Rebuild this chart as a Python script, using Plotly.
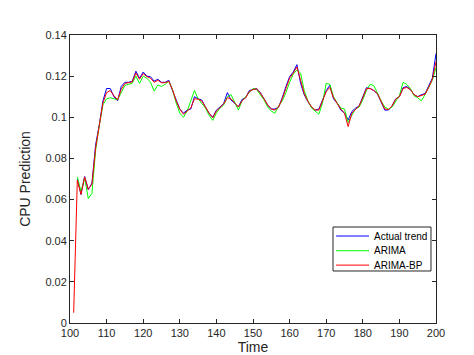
import plotly.graph_objects as go

x_red = list(range(101, 201))
x_other = list(range(102, 201))

actual = [
    0.0700, 0.0625, 0.0712, 0.0648, 0.0680, 0.0866, 0.0963, 0.1080, 0.1140,  # 102-110
    0.1140, 0.1100, 0.1080, 0.1150, 0.1170, 0.1170, 0.1175, 0.1224, 0.1190, 0.1220,  # 111-120
    0.1200, 0.1197, 0.1176, 0.1185, 0.1170, 0.1170, 0.1180, 0.1130, 0.1080, 0.1040,  # 121-130
    0.1020, 0.1035, 0.1040, 0.1100, 0.1090, 0.1084, 0.1050, 0.1020, 0.1000, 0.1035,  # 131-140
    0.1050, 0.1068, 0.1120, 0.1084, 0.1068, 0.1050, 0.1087, 0.1095, 0.1130, 0.1135,  # 141-150
    0.1140, 0.1120, 0.1090, 0.1060, 0.1040, 0.1040, 0.1050, 0.1095, 0.1150, 0.1197,  # 151-160
    0.1220, 0.1256, 0.1165, 0.1110, 0.1076, 0.1050, 0.1035, 0.1040, 0.1084, 0.1130,  # 161-170
    0.1156, 0.1090, 0.1068, 0.1035, 0.1020, 0.0987, 0.1028, 0.1044, 0.1055, 0.1100,  # 171-180
    0.1144, 0.1140, 0.1130, 0.1114, 0.1076, 0.1035, 0.1035, 0.1056, 0.1090, 0.1100,  # 181-190
    0.1144, 0.1150, 0.1135, 0.1110, 0.1100, 0.1110, 0.1115, 0.1150, 0.1190, 0.1310,  # 191-200
]

arima = [
    0.0710, 0.0640, 0.0705, 0.0605, 0.0630, 0.0840, 0.0960, 0.1060, 0.1090,
    0.1095, 0.1090, 0.1085, 0.1120, 0.1155, 0.1160, 0.1165, 0.1200, 0.1165, 0.1200,
    0.1190, 0.1170, 0.1127, 0.1157, 0.1150, 0.1160, 0.1175, 0.1135, 0.1070, 0.1020,
    0.1000, 0.1030, 0.1080, 0.1130, 0.1090, 0.1070, 0.1045, 0.1010, 0.0985, 0.1020,
    0.1045, 0.1060, 0.1100, 0.1110, 0.1070, 0.1035, 0.1080, 0.1100, 0.1120, 0.1140,
    0.1135, 0.1110, 0.1085, 0.1050, 0.1030, 0.1020, 0.1055, 0.1080, 0.1120, 0.1170,
    0.1210, 0.1230, 0.1215, 0.1130, 0.1080, 0.1045, 0.1030, 0.1015, 0.1070, 0.1165,
    0.1160, 0.1100, 0.1070, 0.1045, 0.1040, 0.0975, 0.1010, 0.1040, 0.1050, 0.1085,
    0.1130, 0.1160, 0.1155, 0.1115, 0.1080, 0.1050, 0.1040, 0.1050, 0.1080, 0.1105,
    0.1170, 0.1160, 0.1140, 0.1105, 0.1095, 0.1080, 0.1110, 0.1145, 0.1180, 0.1240,
]

arima_bp = [
    0.0050, 0.0695, 0.0625, 0.0710, 0.0650, 0.0675, 0.0850, 0.0960, 0.1070, 0.1120,  # 101-110
    0.1130, 0.1105, 0.1085, 0.1135, 0.1165, 0.1168, 0.1172, 0.1215, 0.1185, 0.1212,
    0.1198, 0.1190, 0.1170, 0.1180, 0.1168, 0.1168, 0.1175, 0.1135, 0.1080, 0.1040,
    0.1015, 0.1030, 0.1045, 0.1090, 0.1088, 0.1080, 0.1050, 0.1020, 0.0998, 0.1030,
    0.1048, 0.1065, 0.1095, 0.1090, 0.1070, 0.1050, 0.1080, 0.1095, 0.1125, 0.1135,
    0.1138, 0.1118, 0.1090, 0.1060, 0.1040, 0.1035, 0.1050, 0.1090, 0.1140, 0.1190,
    0.1215, 0.1245, 0.1180, 0.1115, 0.1078, 0.1050, 0.1035, 0.1035, 0.1080, 0.1125,
    0.1145, 0.1095, 0.1068, 0.1040, 0.1020, 0.0955, 0.1020, 0.1040, 0.1055, 0.1095,
    0.1140, 0.1140, 0.1130, 0.1115, 0.1078, 0.1040, 0.1038, 0.1055, 0.1088, 0.1100,
    0.1140, 0.1145, 0.1135, 0.1110, 0.1100, 0.1105, 0.1112, 0.1145, 0.1185, 0.1270,
]

x_ticks = [100, 110, 120, 130, 140, 150, 160, 170, 180, 190, 200]
y_ticks = [0, 0.02, 0.04, 0.06, 0.08, 0.1, 0.12, 0.14]
y_tick_text = ["0", "0.02", "0.04", "0.06", "0.08", "0.1", "0.12", "0.14"]

series_names = ["Actual trend", "ARIMA", "ARIMA-BP"]
series_colors = ["rgb(0,0,255)", "rgb(0,255,0)", "rgb(255,0,0)"]

FONT = "Liberation Sans, Arial, sans-serif"
AX = "#262626"

fig = go.Figure()
for xs, ys, name, col in zip([x_other, x_other, x_red], [actual, arima, arima_bp],
                             series_names, series_colors):
    fig.add_trace(go.Scatter(x=xs, y=ys, mode="lines", name=name,
                             line=dict(color=col, width=1), showlegend=False))

axis_common = dict(showline=True, linecolor=AX, linewidth=1, mirror="ticks",
                   ticks="inside", ticklen=4, tickcolor=AX, showgrid=False,
                   zeroline=False, tickfont=dict(family=FONT, size=11, color=AX))

# Compact MATLAB-style legend (paper coordinates)
leg_x0, leg_x1, leg_y0, leg_y1 = 0.7186, 0.9863, 0.1806, 0.3333
row_y = [0.302, 0.251, 0.201]
shapes = [dict(type="rect", xref="paper", yref="paper", x0=leg_x0, x1=leg_x1,
               y0=leg_y0, y1=leg_y1, line=dict(color=AX, width=1), fillcolor="white",
               layer="above")]
annotations = []
for ry, name, col in zip(row_y, series_names, series_colors):
    shapes.append(dict(type="line", xref="paper", yref="paper", x0=0.727, x1=0.817,
                       y0=ry, y1=ry, line=dict(color=col, width=1), layer="above"))
    annotations.append(dict(xref="paper", yref="paper", x=0.825, y=ry, text=name,
                            showarrow=False, xanchor="left", yanchor="middle",
                            font=dict(family=FONT, size=10, color="black")))

fig.update_layout(
    width=474, height=355,
    margin=dict(l=62, r=46, t=27, b=40),
    paper_bgcolor="white", plot_bgcolor="white",
    font=dict(family=FONT, color=AX),
    xaxis=dict(range=[100, 200], tickvals=x_ticks,
               title=dict(text="Time", font=dict(family=FONT, size=14, color=AX), standoff=0),
               **axis_common),
    yaxis=dict(range=[0, 0.14], tickvals=y_ticks, ticktext=y_tick_text,
               title=dict(text="CPU Prediction", font=dict(family=FONT, size=14, color=AX), standoff=11),
               **axis_common),
    shapes=shapes,
    annotations=annotations,
    showlegend=False,
)

fig.write_html("out.html")
